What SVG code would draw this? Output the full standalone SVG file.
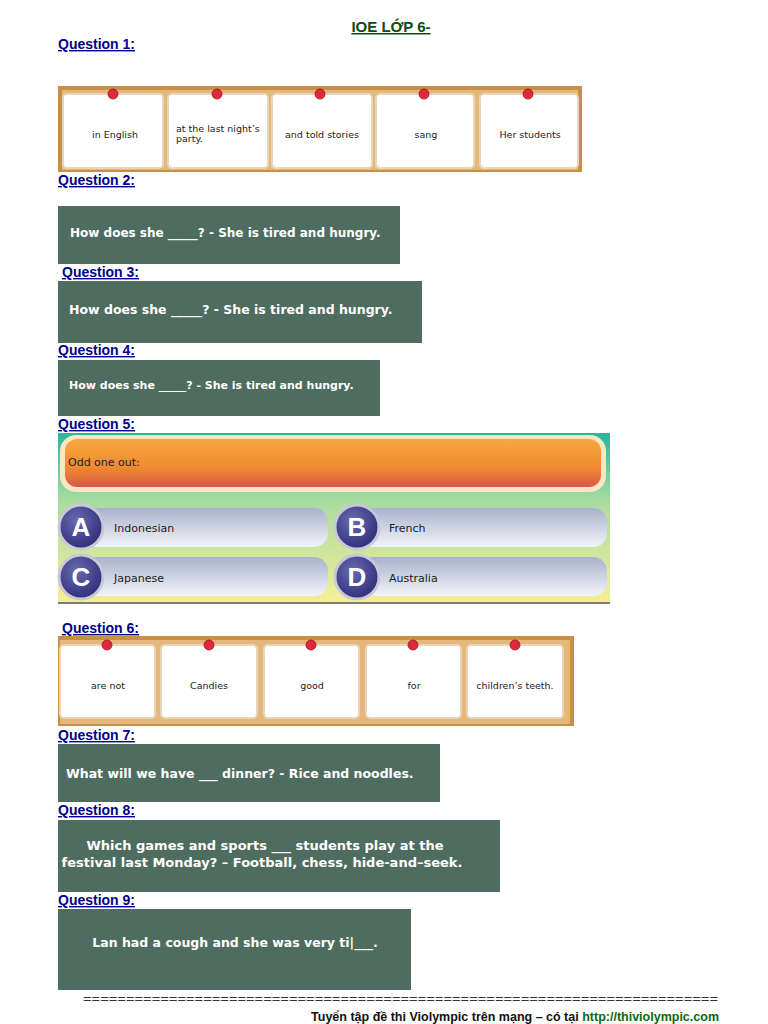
<svg xmlns="http://www.w3.org/2000/svg" width="768" height="1024" viewBox="0 0 768 1024">
<defs>
<style>
.q{font-family:"Liberation Sans",Arial,sans-serif;font-size:14px;font-weight:bold;fill:#00008b;text-decoration:underline}
.bx{fill:#4f6c60}
.bt{font-family:"DejaVu Sans",sans-serif;font-weight:bold;fill:#fff}
.card{fill:#fff;stroke:#e8d6b8;stroke-width:2}
.ct{font-family:"DejaVu Sans",sans-serif;font-size:9.5px;fill:#222;text-anchor:middle}
.cs{font-family:"DejaVu Sans",sans-serif;font-size:9.5px;fill:#222;text-anchor:start}
.pin{fill:#e02a3a;stroke:#a01020;stroke-width:0.8}
.ot{font-family:"DejaVu Sans",sans-serif;font-size:11px;fill:#222}
.lt{font-family:"Liberation Sans",sans-serif;font-size:26px;font-weight:bold;fill:#fff;text-anchor:middle}
</style>
<linearGradient id="bg5" x1="0" y1="0" x2="0" y2="1"><stop offset="0" stop-color="#2ab59c"/><stop offset="0.4" stop-color="#a8dca0"/><stop offset="1" stop-color="#f6ee9a"/></linearGradient>
<linearGradient id="or" x1="0" y1="0" x2="0" y2="1"><stop offset="0" stop-color="#f7a840"/><stop offset="0.6" stop-color="#ee8a30"/><stop offset="1" stop-color="#d85848"/></linearGradient>
<linearGradient id="pl" x1="0" y1="0" x2="0" y2="1"><stop offset="0" stop-color="#a8b2cc"/><stop offset="1" stop-color="#f2f4fa"/></linearGradient>
<radialGradient id="ci" cx="0.4" cy="0.35" r="0.7"><stop offset="0" stop-color="#6a6ab0"/><stop offset="1" stop-color="#2c2c78"/></radialGradient>
</defs>
<text x="391" y="32" text-anchor="middle" font-family="Liberation Sans,sans-serif" font-size="15" font-weight="bold" fill="#0b4d0b" text-decoration="underline">IOE LỚP 6- </text>

<g id="q1">
<text class="q" x="58" y="49">Question 1: </text>
<rect x="58" y="86" width="524" height="86" fill="#c98f47"/>
<rect x="62" y="90" width="516" height="80" fill="#e5b77a"/>
<rect class="card" x="63" y="94" width="100" height="74" rx="4"/>
<rect class="card" x="168" y="94" width="100" height="74" rx="4"/>
<rect class="card" x="272" y="94" width="100" height="74" rx="4"/>
<rect class="card" x="376" y="94" width="98" height="74" rx="4"/>
<rect class="card" x="480" y="94" width="98" height="74" rx="4"/>
<circle class="pin" cx="113" cy="94" r="5"/><circle class="pin" cx="217" cy="94" r="5"/><circle class="pin" cx="320" cy="94" r="5"/><circle class="pin" cx="424" cy="94" r="5"/><circle class="pin" cx="528" cy="94" r="5"/>
<text class="ct" x="115" y="138">in English</text>
<text class="cs" x="176" y="132">at the last night’s</text><text class="cs" x="176" y="142">party.</text>
<text class="ct" x="322" y="138">and told stories</text>
<text class="ct" x="426" y="138">sang</text>
<text class="ct" x="530" y="138">Her students</text>
</g>

<g id="q2"><text class="q" x="58" y="185">Question 2: </text>
<rect class="bx" x="58" y="206" width="342" height="58"/>
<text class="bt" x="70" y="237" font-size="12">How does she _____? - She is tired and hungry.</text></g>

<g id="q3"><text class="q" x="62" y="277">Question 3: </text>
<rect class="bx" x="58" y="281" width="364" height="62"/>
<text class="bt" x="69" y="314" font-size="12.5">How does she _____? - She is tired and hungry.</text></g>

<g id="q4"><text class="q" x="58" y="355">Question 4: </text>
<rect class="bx" x="58" y="360" width="322" height="56"/>
<text class="bt" x="69" y="389" font-size="11">How does she _____? - She is tired and hungry.</text></g>

<g id="q5"><text class="q" x="58" y="429">Question 5: </text>
<rect x="58" y="433" width="552" height="170" fill="url(#bg5)"/>
<line x1="58" y1="603" x2="610" y2="603" stroke="#555" stroke-width="1.5"/>
<rect x="60" y="435" width="546" height="57" rx="16" fill="#fbe6c4"/>
<rect x="65" y="439" width="536" height="48" rx="12" fill="url(#or)"/>
<text class="ot" x="68" y="466" font-size="12">Odd one out:</text>
<rect x="70" y="508" width="258" height="39" rx="14" fill="url(#pl)"/>
<rect x="345" y="508" width="262" height="39" rx="14" fill="url(#pl)"/>
<rect x="70" y="557" width="258" height="39" rx="14" fill="url(#pl)"/>
<rect x="345" y="557" width="262" height="39" rx="14" fill="url(#pl)"/>
<circle cx="81" cy="527" r="22" fill="url(#ci)" stroke="#c8c8d8" stroke-width="3"/>
<circle cx="357" cy="527" r="22" fill="url(#ci)" stroke="#c8c8d8" stroke-width="3"/>
<circle cx="81" cy="577" r="22" fill="url(#ci)" stroke="#c8c8d8" stroke-width="3"/>
<circle cx="357" cy="577" r="22" fill="url(#ci)" stroke="#c8c8d8" stroke-width="3"/>
<text class="lt" x="81" y="536">A</text><text class="lt" x="357" y="536">B</text>
<text class="lt" x="81" y="586">C</text><text class="lt" x="357" y="586">D</text>
<text class="ot" x="114" y="532">Indonesian</text><text class="ot" x="389" y="532">French</text>
<text class="ot" x="114" y="582">Japanese</text><text class="ot" x="389" y="582">Australia</text>
</g>

<g id="q6"><text class="q" x="62" y="633">Question 6: </text>
<rect x="58" y="636" width="516" height="90" fill="#c98f47"/>
<rect x="60" y="640" width="510" height="84" fill="#e5b77a"/>
<rect class="card" x="60" y="645" width="95" height="73" rx="4"/>
<rect class="card" x="161" y="645" width="96" height="73" rx="4"/>
<rect class="card" x="264" y="645" width="95" height="73" rx="4"/>
<rect class="card" x="366" y="645" width="95" height="73" rx="4"/>
<rect class="card" x="467" y="645" width="96" height="73" rx="4"/>
<circle class="pin" cx="107" cy="645" r="5"/><circle class="pin" cx="209" cy="645" r="5"/><circle class="pin" cx="311" cy="645" r="5"/><circle class="pin" cx="413" cy="645" r="5"/><circle class="pin" cx="515" cy="645" r="5"/>
<text class="ct" x="108" y="689">are not</text>
<text class="ct" x="209" y="689">Candies</text>
<text class="ct" x="312" y="689">good</text>
<text class="ct" x="414" y="689">for</text>
<text class="ct" x="515" y="689">children’s teeth.</text>
</g>

<g id="q7"><text class="q" x="58" y="740">Question 7: </text>
<rect class="bx" x="58" y="744" width="382" height="58"/>
<text class="bt" x="66" y="778" font-size="12.5">What will we have ___ dinner? - Rice and noodles.</text></g>

<g id="q8"><text class="q" x="58" y="815">Question 8: </text>
<rect class="bx" x="58" y="820" width="442" height="72"/>
<text class="bt" x="265" y="850" font-size="13" text-anchor="middle">Which games and sports ___ students play at the</text>
<text class="bt" x="262" y="867" font-size="13" text-anchor="middle">festival last Monday? – Football, chess, hide-and–seek.</text></g>

<g id="q9"><text class="q" x="58" y="905">Question 9: </text>
<rect class="bx" x="58" y="909" width="353" height="81"/>
<text class="bt" x="235" y="947" font-size="12.5" text-anchor="middle">Lan had a cough and she was very ti|___.</text></g>

<text x="718" y="1003" text-anchor="end" font-family="Liberation Sans,sans-serif" font-size="12" fill="#333" textLength="635" lengthAdjust="spacingAndGlyphs">==========================================================================</text>
<text x="719" y="1021" text-anchor="end" font-family="Liberation Sans,sans-serif" font-size="12.5" font-weight="bold" fill="#111">Tuyển tập đề thi Violympic trên mạng – có tại <tspan fill="#0a6a0a">http://thiviolympic.com</tspan></text>
</svg>
